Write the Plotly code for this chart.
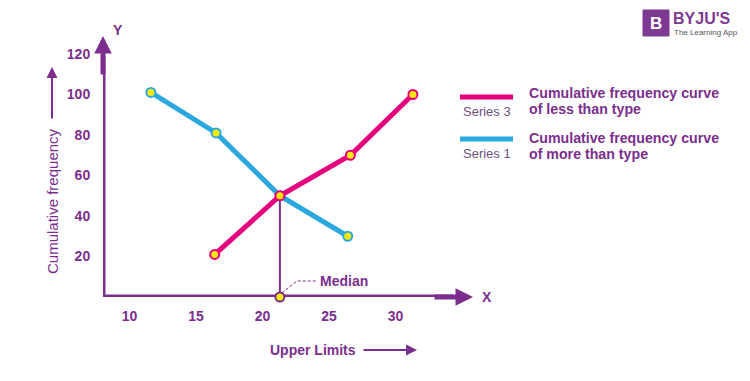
import plotly.graph_objects as go

# ---- data ----
less_x = [16.4, 21.3, 26.6, 31.3]
less_y = [21, 50, 70, 100]
more_x = [11.6, 16.5, 21.3, 26.4]
more_y = [101, 81, 50, 30]
median_x = [21.3, 21.3]
median_y = [50, 0]
x_ticks = [10, 15, 20, 25, 30]
y_ticks = [20, 40, 60, 80, 100, 120]

PURPLE = "#7B2E8E"
PINK = "#E5007D"
BLUE = "#2AA8DF"
YELLOW = "#FFEB00"
FONT = "Liberation Sans, Arial, sans-serif"

W, H = 750, 381
L, R, T, B = 103, 277, 36, 84
PW, PH = W - L - R, H - T - B
XR = [8, 8 + PW / 13.3]
YR = [0, PH / 2.025]


def px(x):
    return (x - L) / PW


def py(y):
    return (H - B - y) / PH


def text(xp, yp, s, size, color=PURPLE, xa="center", ya="middle", **kw):
    d = dict(x=px(xp), y=py(yp), xref="paper", yref="paper", text=s, showarrow=False,
             xanchor=xa, yanchor=ya, font=dict(size=size, color=color, family=FONT))
    d.update(kw)
    return d


fig = go.Figure()

fig.add_trace(go.Scatter(
    x=median_x, y=median_y, mode="lines",
    line=dict(color=PURPLE, width=2), hoverinfo="skip", showlegend=False))

fig.add_trace(go.Scatter(
    x=more_x, y=more_y, mode="lines+markers", name="Series 1",
    line=dict(color=BLUE, width=5),
    marker=dict(size=9, color=YELLOW, line=dict(color=BLUE, width=2)),
    cliponaxis=False, showlegend=False))

fig.add_trace(go.Scatter(
    x=less_x, y=less_y, mode="lines+markers", name="Series 3",
    line=dict(color=PINK, width=5),
    marker=dict(size=9, color=YELLOW, line=dict(color=PINK, width=2)),
    cliponaxis=False, showlegend=False))

# median marker
fig.add_trace(go.Scatter(
    x=[median_x[1]], y=[median_y[1]], mode="markers",
    marker=dict(size=9, color=YELLOW, line=dict(color=PURPLE, width=2)),
    cliponaxis=False, showlegend=False, hoverinfo="skip"))

# dashed leader to "Median"
fig.add_trace(go.Scatter(
    x=[median_x[1] + 0.15, median_x[1] + 1.3, median_x[1] + 2.8],
    y=[2, 7.9, 7.9], mode="lines",
    line=dict(color=PURPLE, width=1, dash="3px,2px"),
    cliponaxis=False, showlegend=False, hoverinfo="skip"))

shapes = []
ann = []
# axis lines (below traces) + arrowheads
shapes.append(dict(type="line", xref="x", yref="y", x0=XR[0] - 0.2, x1=XR[1] - 1.5, y0=0, y1=0,
                   layer="below", line=dict(color=PURPLE, width=5)))
shapes.append(dict(type="line", xref="x", yref="y", x0=XR[0], x1=XR[0], y0=-1.3, y1=YR[1] - 10,
                   layer="below", line=dict(color=PURPLE, width=5)))
ann.append(dict(x=XR[0], y=YR[1], ax=0, ay=40, xref="x", yref="y",
                text="", showarrow=True, arrowhead=2, arrowwidth=5, arrowsize=0.7,
                arrowcolor=PURPLE))
ann.append(dict(x=XR[1], y=0, ax=-40, ay=0, xref="x", yref="y",
                text="", showarrow=True, arrowhead=2, arrowwidth=5, arrowsize=0.7,
                arrowcolor=PURPLE))
ann.append(text(118, 30, "<b>Y</b>", 14))
ann.append(text(487, 297, "<b>X</b>", 14))
ann.append(dict(x=median_x[1] + 2.9, y=7.9, xref="x", yref="y", text="<b>Median</b>",
                xanchor="left", yanchor="middle", showarrow=False,
                font=dict(size=14, color=PURPLE, family=FONT)))

# axis titles
ann.append(text(52, 201, "Cumulative frequency", 15, textangle=-90))
ann.append(dict(x=px(52), y=py(67), xref="paper", yref="paper", ax=0, ay=53, text="",
                showarrow=True, arrowhead=2, arrowwidth=2, arrowsize=1.1, arrowcolor=PURPLE))
ann.append(text(313, 350, "<b>Upper Limits</b>", 14))
ann.append(dict(x=px(417), y=py(350), xref="paper", yref="paper", ax=-55, ay=0, text="",
                showarrow=True, arrowhead=2, arrowwidth=2, arrowsize=1.1, arrowcolor=PURPLE))

# custom legend
for ly, col, sname, l1, l2, ty in [
        (97, PINK, "Series 3", "Cumulative frequency curve", "of less than type", 93),
        (139, BLUE, "Series 1", "Cumulative frequency curve", "of more than type", 138)]:
    shapes.append(dict(type="line", xref="paper", yref="paper", x0=px(460), x1=px(513),
                       y0=py(ly), y1=py(ly), line=dict(color=col, width=5)))
    ann.append(text(461, ly + 14, sname, 13, color="#6E4F82", xa="left"))
    ann.append(text(527, ty, "<b>" + l1 + "</b>", 14.2, xa="left"))
    ann.append(text(527, ty + 16, "<b>" + l2 + "</b>", 14.2, xa="left"))

# logo
shapes.append(dict(type="rect", xref="paper", yref="paper", x0=px(643), x1=px(669),
                   y0=py(36), y1=py(10), fillcolor="#7D3A92", line=dict(color="#7D3A92", width=1)))
ann.append(text(656, 23, "<b>B</b>", 17, color="white"))
ann.append(text(671, 18, "<b>BYJU'S</b>", 16, color="#7D3A92", xa="left"))
ann.append(text(672, 32.5, "The Learning App", 8, color="#555555", xa="left"))

fig.update_layout(
    width=W, height=H, margin=dict(l=L, r=R, t=T, b=B),
    paper_bgcolor="white", plot_bgcolor="white",
    font=dict(family=FONT, color=PURPLE),
    annotations=ann, shapes=shapes, showlegend=False,
    xaxis=dict(range=XR, tickvals=x_ticks, ticktext=["<b>%d</b>" % v for v in x_ticks],
               showgrid=False, zeroline=False, showline=False,
               ticks="outside", ticklen=6, tickcolor="rgba(0,0,0,0)",
               tickfont=dict(size=14, color=PURPLE, family=FONT)),
    yaxis=dict(range=YR, tickvals=y_ticks, ticktext=["<b>%d</b>" % v for v in y_ticks],
               showgrid=False, zeroline=False, showline=False,
               ticks="outside", ticklen=9, tickcolor="rgba(0,0,0,0)",
               tickfont=dict(size=14, color=PURPLE, family=FONT)),
)

fig.write_html("out.html", config={"displayModeBar": False},
               post_script="document.body.style.margin='0';document.body.style.overflow='hidden';")
